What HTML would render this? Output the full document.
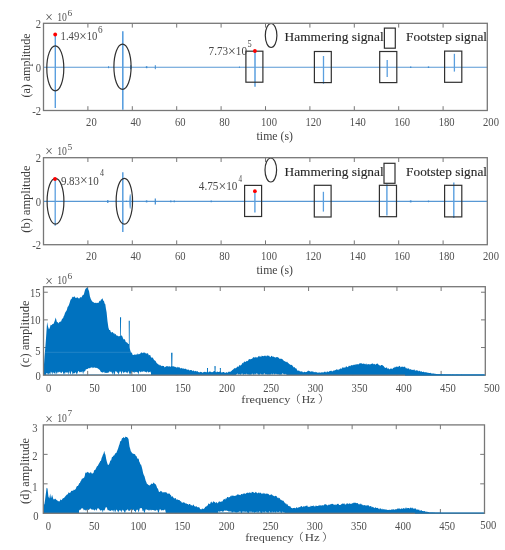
<!DOCTYPE html><html><head><meta charset="utf-8"><style>html,body{margin:0;padding:0;background:#fff;}svg{display:block;}text{font-family:'Liberation Serif', 'Noto Serif CJK SC', serif;paint-order:stroke;}</style></head><body>
<svg width="505" height="550" viewBox="0 0 505 550">
<rect width="505" height="550" fill="#fff"/>
<line x1="43.50" y1="67.20" x2="487.30" y2="67.20" stroke="#5898d4" stroke-width="1.1"/>
<line x1="55.30" y1="34.50" x2="55.30" y2="108.00" stroke="#5a9fdf" stroke-width="1.4"/>
<line x1="122.80" y1="31.20" x2="122.80" y2="109.80" stroke="#5a9fdf" stroke-width="1.6"/>
<line x1="255.00" y1="51.00" x2="255.00" y2="86.80" stroke="#5a9fdf" stroke-width="1.5"/>
<line x1="323.50" y1="56.00" x2="323.50" y2="83.80" stroke="#5a9fdf" stroke-width="1.3"/>
<line x1="387.20" y1="60.00" x2="387.20" y2="76.90" stroke="#5a9fdf" stroke-width="1.3"/>
<line x1="454.40" y1="53.80" x2="454.40" y2="71.60" stroke="#5a9fdf" stroke-width="1.3"/>
<line x1="239.50" y1="66.60" x2="239.50" y2="67.80" stroke="#3f8bd0" stroke-width="1.1"/>
<line x1="108.60" y1="66.20" x2="108.60" y2="68.20" stroke="#3f8bd0" stroke-width="1"/>
<line x1="130.70" y1="65.20" x2="130.70" y2="69.20" stroke="#3f8bd0" stroke-width="1.3"/>
<line x1="146.60" y1="66.20" x2="146.60" y2="68.20" stroke="#3f8bd0" stroke-width="1.5"/>
<line x1="155.30" y1="65.20" x2="155.30" y2="69.20" stroke="#3f8bd0" stroke-width="1"/>
<line x1="410.70" y1="66.40" x2="410.70" y2="68.00" stroke="#3f8bd0" stroke-width="1.3"/>
<line x1="428.50" y1="66.40" x2="428.50" y2="68.00" stroke="#3f8bd0" stroke-width="1.3"/>
<ellipse cx="55.3" cy="68.3" rx="8.5" ry="22.5" fill="none" stroke="#303030" stroke-width="1.2"/>
<ellipse cx="122.5" cy="66.8" rx="8.6" ry="22.6" fill="none" stroke="#303030" stroke-width="1.2"/>
<rect x="245.9" y="51.2" width="17.00" height="31.00" fill="none" stroke="#303030" stroke-width="1.2"/>
<rect x="314.4" y="51.5" width="16.90" height="31.10" fill="none" stroke="#303030" stroke-width="1.2"/>
<rect x="379.7" y="51.5" width="17.10" height="31.10" fill="none" stroke="#303030" stroke-width="1.2"/>
<rect x="444.6" y="51.1" width="17.20" height="31.20" fill="none" stroke="#303030" stroke-width="1.2"/>
<circle cx="55.2" cy="34.5" r="1.9" fill="#ff0000"/>
<circle cx="254.9" cy="51.0" r="1.9" fill="#ff0000"/>
<text x="60.60" y="40.30" font-size="11.8" textLength="36.8" lengthAdjust="spacingAndGlyphs" fill="#484848">1.49<tspan font-size="14.5" dy="0.6">×</tspan><tspan dy="-0.6">10</tspan></text>
<text x="98.10" y="32.80" font-size="9.8" textLength="4.6" lengthAdjust="spacingAndGlyphs" fill="#484848">6</text>
<text x="208.60" y="55.00" font-size="11.8" textLength="38.4" lengthAdjust="spacingAndGlyphs" fill="#484848">7.73<tspan font-size="14.5" dy="0.6">×</tspan><tspan dy="-0.6">10</tspan></text>
<text x="247.50" y="47.20" font-size="9.8" textLength="4.2" lengthAdjust="spacingAndGlyphs" fill="#484848">5</text>
<ellipse cx="271.1" cy="35.5" rx="5.8" ry="12" fill="none" stroke="#303030" stroke-width="1.2"/>
<text x="284.60" y="41.20" font-size="12.8" textLength="99.1" lengthAdjust="spacingAndGlyphs" fill="#262626" stroke="#262626" stroke-width="0.12">Hammering signal</text>
<rect x="384.4" y="28.1" width="10.90" height="20.10" fill="none" stroke="#303030" stroke-width="1.2"/>
<text x="406.10" y="41.00" font-size="12.8" textLength="80.9" lengthAdjust="spacingAndGlyphs" fill="#262626" stroke="#262626" stroke-width="0.12">Footstep signal</text>
<line x1="87.90" y1="110.50" x2="87.90" y2="106.20" stroke="#777777" stroke-width="1.0"/>
<line x1="87.90" y1="23.30" x2="87.90" y2="27.60" stroke="#777777" stroke-width="1.0"/>
<line x1="132.30" y1="110.50" x2="132.30" y2="106.20" stroke="#777777" stroke-width="1.0"/>
<line x1="132.30" y1="23.30" x2="132.30" y2="27.60" stroke="#777777" stroke-width="1.0"/>
<line x1="176.70" y1="110.50" x2="176.70" y2="106.20" stroke="#777777" stroke-width="1.0"/>
<line x1="176.70" y1="23.30" x2="176.70" y2="27.60" stroke="#777777" stroke-width="1.0"/>
<line x1="221.10" y1="110.50" x2="221.10" y2="106.20" stroke="#777777" stroke-width="1.0"/>
<line x1="221.10" y1="23.30" x2="221.10" y2="27.60" stroke="#777777" stroke-width="1.0"/>
<line x1="265.50" y1="110.50" x2="265.50" y2="106.20" stroke="#777777" stroke-width="1.0"/>
<line x1="265.50" y1="23.30" x2="265.50" y2="27.60" stroke="#777777" stroke-width="1.0"/>
<line x1="309.90" y1="110.50" x2="309.90" y2="106.20" stroke="#777777" stroke-width="1.0"/>
<line x1="309.90" y1="23.30" x2="309.90" y2="27.60" stroke="#777777" stroke-width="1.0"/>
<line x1="354.30" y1="110.50" x2="354.30" y2="106.20" stroke="#777777" stroke-width="1.0"/>
<line x1="354.30" y1="23.30" x2="354.30" y2="27.60" stroke="#777777" stroke-width="1.0"/>
<line x1="398.70" y1="110.50" x2="398.70" y2="106.20" stroke="#777777" stroke-width="1.0"/>
<line x1="398.70" y1="23.30" x2="398.70" y2="27.60" stroke="#777777" stroke-width="1.0"/>
<line x1="443.10" y1="110.50" x2="443.10" y2="106.20" stroke="#777777" stroke-width="1.0"/>
<line x1="443.10" y1="23.30" x2="443.10" y2="27.60" stroke="#777777" stroke-width="1.0"/>
<rect x="43.50" y="23.30" width="443.80" height="87.20" fill="none" stroke="#777777" stroke-width="1.3"/>
<text transform="translate(41.00 27.90) scale(0.87 1)" font-size="12.2" text-anchor="end" fill="#505050">2</text>
<text transform="translate(41.00 71.80) scale(0.87 1)" font-size="12.2" text-anchor="end" fill="#505050">0</text>
<text transform="translate(41.00 115.10) scale(0.87 1)" font-size="12.2" text-anchor="end" fill="#505050">-2</text>
<text x="45.20" y="22.10" font-size="15" textLength="7.6" lengthAdjust="spacingAndGlyphs" fill="#505050">×</text>
<text x="57.20" y="20.60" font-size="12.2" textLength="9.7" lengthAdjust="spacingAndGlyphs" fill="#505050">10</text>
<text x="67.60" y="15.60" font-size="9.0" textLength="4.7" lengthAdjust="spacingAndGlyphs" fill="#505050">6</text>
<text transform="translate(91.40 126.10) scale(0.87 1)" font-size="12.2" text-anchor="middle" fill="#505050">20</text>
<text transform="translate(135.80 126.10) scale(0.87 1)" font-size="12.2" text-anchor="middle" fill="#505050">40</text>
<text transform="translate(180.20 126.10) scale(0.87 1)" font-size="12.2" text-anchor="middle" fill="#505050">60</text>
<text transform="translate(224.60 126.10) scale(0.87 1)" font-size="12.2" text-anchor="middle" fill="#505050">80</text>
<text transform="translate(269.00 126.10) scale(0.87 1)" font-size="12.2" text-anchor="middle" fill="#505050">100</text>
<text transform="translate(313.40 126.10) scale(0.87 1)" font-size="12.2" text-anchor="middle" fill="#505050">120</text>
<text transform="translate(357.80 126.10) scale(0.87 1)" font-size="12.2" text-anchor="middle" fill="#505050">140</text>
<text transform="translate(402.20 126.10) scale(0.87 1)" font-size="12.2" text-anchor="middle" fill="#505050">160</text>
<text transform="translate(446.60 126.10) scale(0.87 1)" font-size="12.2" text-anchor="middle" fill="#505050">180</text>
<text transform="translate(491.00 126.10) scale(0.87 1)" font-size="12.2" text-anchor="middle" fill="#505050">200</text>
<text x="256.60" y="139.60" font-size="12.2" textLength="36.4" lengthAdjust="spacingAndGlyphs" fill="#424242">time (s)</text>
<text transform="translate(29.60 97.40) rotate(-90)" font-size="12.4" textLength="63.9" lengthAdjust="spacingAndGlyphs" fill="#3c3c3c">(a) amplitude</text>
<ellipse cx="130.2" cy="201.4" rx="1.0" ry="7.4" fill="#6aa7df"/>
<line x1="43.50" y1="201.40" x2="487.30" y2="201.40" stroke="#5898d4" stroke-width="1.1"/>
<line x1="55.20" y1="178.80" x2="55.20" y2="225.80" stroke="#5a9fdf" stroke-width="1.3"/>
<line x1="122.80" y1="172.30" x2="122.80" y2="231.90" stroke="#5a9fdf" stroke-width="1.5"/>
<line x1="254.90" y1="190.80" x2="254.90" y2="212.60" stroke="#5a9fdf" stroke-width="1.4"/>
<line x1="323.40" y1="191.80" x2="323.40" y2="211.60" stroke="#5a9fdf" stroke-width="1.3"/>
<line x1="386.90" y1="184.30" x2="386.90" y2="215.50" stroke="#5a9fdf" stroke-width="1.4"/>
<line x1="453.80" y1="182.50" x2="453.80" y2="218.10" stroke="#5a9fdf" stroke-width="1.4"/>
<line x1="126.40" y1="200.80" x2="126.40" y2="202.00" stroke="#3f8bd0" stroke-width="1.2"/>
<line x1="107.80" y1="199.90" x2="107.80" y2="202.90" stroke="#3f8bd0" stroke-width="1.2"/>
<line x1="146.60" y1="200.40" x2="146.60" y2="202.40" stroke="#3f8bd0" stroke-width="1.5"/>
<line x1="155.30" y1="198.40" x2="155.30" y2="204.40" stroke="#3f8bd0" stroke-width="1.2"/>
<line x1="170.80" y1="200.60" x2="170.80" y2="202.20" stroke="#3f8bd0" stroke-width="1.3"/>
<line x1="174.30" y1="200.60" x2="174.30" y2="202.20" stroke="#3f8bd0" stroke-width="1.3"/>
<line x1="211.30" y1="200.60" x2="211.30" y2="202.20" stroke="#3f8bd0" stroke-width="1.5"/>
<line x1="410.70" y1="200.40" x2="410.70" y2="202.40" stroke="#3f8bd0" stroke-width="1.6"/>
<line x1="428.50" y1="200.60" x2="428.50" y2="202.20" stroke="#3f8bd0" stroke-width="1.3"/>
<ellipse cx="55.5" cy="201.2" rx="8.4" ry="22.9" fill="none" stroke="#303030" stroke-width="1.2"/>
<ellipse cx="124.35" cy="201.2" rx="8.2" ry="22.9" fill="none" stroke="#303030" stroke-width="1.2"/>
<rect x="244.6" y="185.4" width="17.00" height="31.10" fill="none" stroke="#303030" stroke-width="1.2"/>
<rect x="314.3" y="185.3" width="16.80" height="31.70" fill="none" stroke="#303030" stroke-width="1.2"/>
<rect x="379.4" y="185.3" width="17.10" height="31.40" fill="none" stroke="#303030" stroke-width="1.2"/>
<rect x="444.6" y="185.3" width="17.20" height="31.60" fill="none" stroke="#303030" stroke-width="1.2"/>
<circle cx="55.0" cy="179.0" r="1.9" fill="#ff0000"/>
<circle cx="254.9" cy="191.2" r="1.9" fill="#ff0000"/>
<text x="60.90" y="184.70" font-size="11.8" textLength="37.8" lengthAdjust="spacingAndGlyphs" fill="#484848">9.83<tspan font-size="14.5" dy="0.6">×</tspan><tspan dy="-0.6">10</tspan></text>
<text x="99.90" y="176.40" font-size="9.8" textLength="4.0" lengthAdjust="spacingAndGlyphs" fill="#484848">4</text>
<text x="198.80" y="190.40" font-size="11.8" textLength="38.6" lengthAdjust="spacingAndGlyphs" fill="#484848">4.75<tspan font-size="14.5" dy="0.6">×</tspan><tspan dy="-0.6">10</tspan></text>
<text x="238.40" y="181.90" font-size="9.8" textLength="3.6" lengthAdjust="spacingAndGlyphs" fill="#484848">4</text>
<ellipse cx="270.8" cy="170" rx="5.8" ry="12" fill="none" stroke="#303030" stroke-width="1.2"/>
<text x="284.50" y="175.80" font-size="12.8" textLength="99.2" lengthAdjust="spacingAndGlyphs" fill="#262626" stroke="#262626" stroke-width="0.12">Hammering signal</text>
<rect x="384.0" y="163.3" width="11.00" height="20.00" fill="none" stroke="#303030" stroke-width="1.2"/>
<text x="406.10" y="175.60" font-size="12.8" textLength="80.9" lengthAdjust="spacingAndGlyphs" fill="#262626" stroke="#262626" stroke-width="0.12">Footstep signal</text>
<line x1="87.90" y1="244.70" x2="87.90" y2="240.40" stroke="#777777" stroke-width="1.0"/>
<line x1="87.90" y1="157.70" x2="87.90" y2="162.00" stroke="#777777" stroke-width="1.0"/>
<line x1="132.30" y1="244.70" x2="132.30" y2="240.40" stroke="#777777" stroke-width="1.0"/>
<line x1="132.30" y1="157.70" x2="132.30" y2="162.00" stroke="#777777" stroke-width="1.0"/>
<line x1="176.70" y1="244.70" x2="176.70" y2="240.40" stroke="#777777" stroke-width="1.0"/>
<line x1="176.70" y1="157.70" x2="176.70" y2="162.00" stroke="#777777" stroke-width="1.0"/>
<line x1="221.10" y1="244.70" x2="221.10" y2="240.40" stroke="#777777" stroke-width="1.0"/>
<line x1="221.10" y1="157.70" x2="221.10" y2="162.00" stroke="#777777" stroke-width="1.0"/>
<line x1="265.50" y1="244.70" x2="265.50" y2="240.40" stroke="#777777" stroke-width="1.0"/>
<line x1="265.50" y1="157.70" x2="265.50" y2="162.00" stroke="#777777" stroke-width="1.0"/>
<line x1="309.90" y1="244.70" x2="309.90" y2="240.40" stroke="#777777" stroke-width="1.0"/>
<line x1="309.90" y1="157.70" x2="309.90" y2="162.00" stroke="#777777" stroke-width="1.0"/>
<line x1="354.30" y1="244.70" x2="354.30" y2="240.40" stroke="#777777" stroke-width="1.0"/>
<line x1="354.30" y1="157.70" x2="354.30" y2="162.00" stroke="#777777" stroke-width="1.0"/>
<line x1="398.70" y1="244.70" x2="398.70" y2="240.40" stroke="#777777" stroke-width="1.0"/>
<line x1="398.70" y1="157.70" x2="398.70" y2="162.00" stroke="#777777" stroke-width="1.0"/>
<line x1="443.10" y1="244.70" x2="443.10" y2="240.40" stroke="#777777" stroke-width="1.0"/>
<line x1="443.10" y1="157.70" x2="443.10" y2="162.00" stroke="#777777" stroke-width="1.0"/>
<rect x="43.50" y="157.70" width="443.80" height="87.00" fill="none" stroke="#777777" stroke-width="1.3"/>
<text transform="translate(41.00 162.30) scale(0.87 1)" font-size="12.2" text-anchor="end" fill="#505050">2</text>
<text transform="translate(41.00 206.00) scale(0.87 1)" font-size="12.2" text-anchor="end" fill="#505050">0</text>
<text transform="translate(41.00 249.30) scale(0.87 1)" font-size="12.2" text-anchor="end" fill="#505050">-2</text>
<text x="45.20" y="156.30" font-size="15" textLength="7.6" lengthAdjust="spacingAndGlyphs" fill="#505050">×</text>
<text x="57.20" y="154.80" font-size="12.2" textLength="9.7" lengthAdjust="spacingAndGlyphs" fill="#505050">10</text>
<text x="67.60" y="149.50" font-size="9.0" textLength="4.7" lengthAdjust="spacingAndGlyphs" fill="#505050">5</text>
<text transform="translate(91.40 260.10) scale(0.87 1)" font-size="12.2" text-anchor="middle" fill="#505050">20</text>
<text transform="translate(135.80 260.10) scale(0.87 1)" font-size="12.2" text-anchor="middle" fill="#505050">40</text>
<text transform="translate(180.20 260.10) scale(0.87 1)" font-size="12.2" text-anchor="middle" fill="#505050">60</text>
<text transform="translate(224.60 260.10) scale(0.87 1)" font-size="12.2" text-anchor="middle" fill="#505050">80</text>
<text transform="translate(269.00 260.10) scale(0.87 1)" font-size="12.2" text-anchor="middle" fill="#505050">100</text>
<text transform="translate(313.40 260.10) scale(0.87 1)" font-size="12.2" text-anchor="middle" fill="#505050">120</text>
<text transform="translate(357.80 260.10) scale(0.87 1)" font-size="12.2" text-anchor="middle" fill="#505050">140</text>
<text transform="translate(402.20 260.10) scale(0.87 1)" font-size="12.2" text-anchor="middle" fill="#505050">160</text>
<text transform="translate(446.60 260.10) scale(0.87 1)" font-size="12.2" text-anchor="middle" fill="#505050">180</text>
<text transform="translate(491.00 260.10) scale(0.87 1)" font-size="12.2" text-anchor="middle" fill="#505050">200</text>
<text x="256.60" y="274.20" font-size="12.2" textLength="36.4" lengthAdjust="spacingAndGlyphs" fill="#424242">time (s)</text>
<text transform="translate(30.00 232.70) rotate(-90)" font-size="12.4" textLength="67.2" lengthAdjust="spacingAndGlyphs" fill="#3c3c3c">(b) amplitude</text>
<line x1="87.68" y1="375.20" x2="87.68" y2="370.90" stroke="#777777" stroke-width="1.0"/>
<line x1="87.68" y1="286.70" x2="87.68" y2="291.00" stroke="#777777" stroke-width="1.0"/>
<line x1="131.86" y1="375.20" x2="131.86" y2="370.90" stroke="#777777" stroke-width="1.0"/>
<line x1="131.86" y1="286.70" x2="131.86" y2="291.00" stroke="#777777" stroke-width="1.0"/>
<line x1="176.04" y1="375.20" x2="176.04" y2="370.90" stroke="#777777" stroke-width="1.0"/>
<line x1="176.04" y1="286.70" x2="176.04" y2="291.00" stroke="#777777" stroke-width="1.0"/>
<line x1="220.22" y1="375.20" x2="220.22" y2="370.90" stroke="#777777" stroke-width="1.0"/>
<line x1="220.22" y1="286.70" x2="220.22" y2="291.00" stroke="#777777" stroke-width="1.0"/>
<line x1="264.40" y1="375.20" x2="264.40" y2="370.90" stroke="#777777" stroke-width="1.0"/>
<line x1="264.40" y1="286.70" x2="264.40" y2="291.00" stroke="#777777" stroke-width="1.0"/>
<line x1="308.58" y1="375.20" x2="308.58" y2="370.90" stroke="#777777" stroke-width="1.0"/>
<line x1="308.58" y1="286.70" x2="308.58" y2="291.00" stroke="#777777" stroke-width="1.0"/>
<line x1="352.76" y1="375.20" x2="352.76" y2="370.90" stroke="#777777" stroke-width="1.0"/>
<line x1="352.76" y1="286.70" x2="352.76" y2="291.00" stroke="#777777" stroke-width="1.0"/>
<line x1="396.94" y1="375.20" x2="396.94" y2="370.90" stroke="#777777" stroke-width="1.0"/>
<line x1="396.94" y1="286.70" x2="396.94" y2="291.00" stroke="#777777" stroke-width="1.0"/>
<line x1="441.12" y1="375.20" x2="441.12" y2="370.90" stroke="#777777" stroke-width="1.0"/>
<line x1="441.12" y1="286.70" x2="441.12" y2="291.00" stroke="#777777" stroke-width="1.0"/>
<line x1="43.50" y1="347.54" x2="47.80" y2="347.54" stroke="#777777" stroke-width="1.0"/>
<line x1="485.30" y1="347.54" x2="481.00" y2="347.54" stroke="#777777" stroke-width="1.0"/>
<line x1="43.50" y1="319.89" x2="47.80" y2="319.89" stroke="#777777" stroke-width="1.0"/>
<line x1="485.30" y1="319.89" x2="481.00" y2="319.89" stroke="#777777" stroke-width="1.0"/>
<line x1="43.50" y1="292.23" x2="47.80" y2="292.23" stroke="#777777" stroke-width="1.0"/>
<line x1="485.30" y1="292.23" x2="481.00" y2="292.23" stroke="#777777" stroke-width="1.0"/>
<polygon points="43.6,375.2 43.9,366.0 44.5,356.8 45.4,346.5 46.2,335.4 47.1,322.1 48.0,326.5 48.9,329.2 49.5,328.5 50.1,326.8 50.7,324.8 51.6,325.3 52.5,323.9 53.4,323.9 54.3,322.1 55.0,319.9 55.7,317.6 56.9,322.1 57.6,322.1 58.2,323.4 58.9,322.5 59.6,322.1 60.3,321.6 61.0,321.8 61.6,320.1 62.3,318.5 63.0,318.4 63.6,316.5 64.3,315.3 65.0,313.0 65.7,311.7 66.3,311.0 66.9,309.8 67.6,307.0 68.3,306.2 68.9,304.9 69.6,303.1 70.3,300.5 70.9,299.3 71.6,299.0 72.2,296.5 72.8,297.4 73.5,297.0 74.1,296.6 74.7,296.6 75.4,298.0 76.1,297.5 76.7,297.9 77.4,296.9 78.1,298.3 78.8,298.2 79.4,298.6 80.1,297.3 80.8,297.3 81.4,297.4 82.1,296.2 82.8,295.0 83.5,294.9 84.1,293.4 84.8,290.7 85.4,289.1 86.3,288.3 87.2,287.0 88.1,289.3 89.0,290.9 89.9,296.3 90.8,298.9 91.5,300.3 92.1,301.4 92.8,301.7 93.4,302.0 94.1,302.9 94.8,302.8 95.6,302.8 96.3,303.3 97.0,302.5 97.6,302.9 98.2,303.0 98.9,302.2 99.5,300.7 100.3,301.2 101.2,298.9 101.8,299.7 102.5,298.0 103.2,300.8 103.9,300.7 104.6,303.5 105.3,304.3 105.9,308.5 106.6,312.3 107.5,321.2 108.4,327.4 109.2,330.0 110.1,330.1 110.8,332.0 111.4,332.4 112.1,332.3 112.8,331.9 113.5,333.4 114.2,333.1 114.8,334.5 115.5,333.7 116.4,335.4 117.3,335.4 118.2,336.3 119.1,336.3 120.2,336.0 120.0,317.3 121.1,317.3 120.9,335.6 121.7,335.4 122.4,336.4 123.1,338.5 123.7,339.6 124.4,339.0 125.1,340.0 125.8,342.0 126.4,342.3 127.1,342.6 127.7,343.3 128.3,344.0 128.9,344.0 128.7,320.8 129.8,320.8 129.6,346.0 129.7,347.9 130.3,350.6 130.9,352.2 131.5,352.4 132.1,353.3 132.7,355.1 133.3,355.0 134.2,354.7 135.1,354.2 135.8,355.1 136.4,354.2 137.1,354.8 137.8,353.3 138.5,354.6 139.2,353.7 139.9,354.3 140.6,353.0 141.3,352.4 142.0,352.5 142.7,353.3 143.5,352.4 144.2,352.7 144.9,352.4 145.6,353.2 146.2,353.8 146.9,353.3 147.6,353.3 148.2,353.8 148.9,355.5 149.5,355.0 150.2,355.0 150.9,357.1 151.6,357.7 152.2,357.6 152.9,357.7 153.6,359.3 154.3,360.3 155.0,360.4 155.9,361.6 156.6,363.1 157.2,363.5 157.9,363.9 158.6,364.5 159.2,365.5 159.9,364.6 160.6,365.6 161.2,365.7 161.9,366.3 162.6,365.8 163.2,366.1 163.9,365.9 164.6,367.4 165.2,366.7 165.9,366.7 166.5,365.9 167.2,366.5 167.8,365.9 168.5,366.8 169.2,365.9 169.9,366.8 170.6,366.8 171.3,365.9 171.1,352.7 171.8,352.8 172.5,352.7 172.3,365.9 173.1,366.8 173.8,365.9 174.5,366.7 175.1,367.2 175.8,366.8 176.4,367.5 177.1,367.7 177.7,366.7 178.4,366.9 179.0,368.0 179.7,367.1 180.4,368.7 181.0,367.8 181.7,368.3 182.3,368.6 183.0,368.4 183.6,368.6 184.3,368.7 184.9,368.9 185.6,368.5 186.2,369.5 186.8,369.2 187.4,369.5 188.0,370.2 188.6,369.2 189.2,370.2 189.8,370.6 190.4,370.1 191.0,370.1 191.6,369.9 192.3,371.2 192.9,370.5 193.6,370.6 194.2,371.1 194.9,371.5 195.5,370.8 196.2,371.3 196.8,371.4 197.5,371.1 198.2,372.2 198.8,371.9 199.5,372.4 200.2,371.8 200.8,372.1 201.5,371.9 202.1,372.5 202.7,372.7 203.3,372.2 203.9,372.0 204.6,371.8 205.2,372.2 205.8,371.8 206.4,372.4 207.0,371.5 207.0,368.1 208.0,368.1 207.9,371.5 208.7,372.4 209.4,371.5 210.1,371.6 210.7,371.7 211.3,372.3 212.0,372.0 212.7,372.2 213.3,371.5 213.9,371.2 214.6,371.0 214.4,365.9 215.1,366.3 215.7,365.9 215.5,371.5 216.1,372.4 216.7,371.8 217.3,371.5 218.0,371.9 218.7,372.0 219.3,372.0 220.0,371.5 219.8,368.1 220.9,368.1 220.7,371.9 221.3,372.3 222.0,372.8 222.7,372.1 223.3,371.9 224.0,371.9 224.6,372.8 225.3,372.7 225.9,372.8 226.6,372.1 227.2,372.7 227.9,372.6 228.5,371.8 229.2,371.5 229.8,372.0 230.4,371.8 231.1,371.3 231.7,370.7 232.3,370.0 232.9,369.7 233.6,369.1 234.2,368.5 234.8,368.0 235.5,368.4 236.1,367.5 236.8,367.8 237.5,366.2 238.2,367.1 238.8,366.3 239.5,364.8 240.1,365.8 240.7,365.3 241.3,364.9 241.9,364.1 242.5,362.8 243.1,363.5 243.7,362.3 244.3,361.6 245.0,361.7 245.6,361.9 246.3,361.3 247.0,360.7 247.7,361.2 248.3,360.3 249.0,359.0 249.6,359.2 250.2,358.9 250.8,359.5 251.4,358.7 252.0,358.9 252.6,358.0 253.2,357.5 253.8,356.9 254.5,357.5 255.1,357.8 255.8,356.7 256.5,357.5 257.2,357.5 257.8,357.2 258.5,355.8 259.1,357.0 259.8,355.7 260.4,356.6 261.1,356.9 261.8,355.6 262.4,355.9 263.1,355.9 263.7,356.2 264.4,356.0 265.0,355.3 265.6,356.1 266.2,356.6 266.9,355.5 267.5,355.6 268.1,355.7 268.7,355.8 269.3,355.8 270.0,357.2 270.6,357.0 271.2,355.8 271.8,356.0 272.5,356.8 273.1,356.6 273.7,356.7 274.4,356.9 275.0,357.4 275.6,357.4 276.2,357.2 276.9,357.1 277.5,356.9 278.1,357.7 278.7,357.6 279.3,358.5 279.9,359.0 280.5,358.8 281.1,358.6 281.7,359.0 282.3,359.0 283.0,359.9 283.6,360.6 284.3,361.3 285.0,361.1 285.7,362.1 286.3,362.2 287.0,361.6 287.6,362.6 288.2,363.0 288.8,363.5 289.4,364.3 290.0,364.2 290.6,365.0 291.2,365.1 291.8,364.8 292.5,365.7 293.1,366.6 293.8,367.4 294.5,367.0 295.2,368.0 295.8,368.5 296.5,368.4 297.1,370.2 297.8,370.7 298.4,370.3 299.1,371.5 299.7,370.6 300.3,371.8 300.9,371.2 301.5,371.6 302.1,371.3 302.7,372.2 303.3,372.1 303.9,372.5 304.5,371.6 305.1,372.3 305.8,372.1 306.4,372.0 307.0,371.7 307.7,370.9 308.3,370.6 308.9,371.5 309.6,370.9 310.2,371.2 310.8,372.1 311.4,371.3 312.1,371.5 312.7,371.6 313.3,371.6 314.0,372.6 314.6,371.9 315.3,371.8 315.9,372.6 316.6,371.9 317.2,372.7 317.9,372.6 318.5,372.8 319.2,372.0 319.9,372.9 320.5,372.5 321.2,372.7 321.8,371.9 322.5,372.6 323.1,372.3 323.8,372.4 324.4,371.8 325.1,371.6 325.7,372.3 326.3,372.5 326.9,371.4 327.5,371.6 328.1,371.8 328.7,372.0 329.3,371.2 329.9,371.0 330.5,371.0 331.1,370.6 331.8,371.3 332.4,371.4 333.1,370.7 333.7,370.5 334.4,370.4 335.0,370.2 335.7,370.1 336.3,369.5 337.0,369.2 337.6,369.7 338.3,370.2 338.9,369.1 339.5,369.4 340.2,368.3 340.8,368.8 341.4,368.7 342.1,368.3 342.7,367.1 343.3,367.7 344.0,367.5 344.6,367.6 345.2,367.8 345.9,366.5 346.5,366.3 347.1,367.1 347.7,367.2 348.4,366.4 349.0,365.5 349.6,366.0 350.3,366.3 350.9,365.3 351.5,365.3 352.1,365.0 352.8,365.4 353.4,364.9 354.0,364.6 354.7,365.1 355.3,363.9 355.9,365.2 356.5,364.1 357.1,364.6 357.7,364.1 358.3,364.6 358.9,364.1 359.5,363.5 360.1,363.0 360.7,363.4 361.4,363.1 362.0,363.9 362.6,363.8 363.2,363.5 363.9,363.8 364.5,363.8 365.1,364.6 365.8,363.7 366.4,363.5 367.0,364.9 367.7,364.1 368.3,364.2 369.0,364.0 369.6,364.5 370.2,364.4 370.9,364.0 371.5,363.8 372.2,364.1 372.8,363.0 373.5,364.4 374.1,363.7 374.8,364.3 375.5,364.7 376.2,364.1 376.8,363.8 377.5,363.5 378.1,364.0 378.7,365.0 379.3,365.1 379.9,365.7 380.5,365.7 381.1,365.0 381.7,365.1 382.3,365.0 383.0,365.7 383.6,366.0 384.3,367.1 385.0,367.7 385.7,368.1 386.3,367.4 387.0,367.4 387.7,368.9 388.3,368.3 389.0,368.7 389.7,369.4 390.3,368.6 391.0,368.7 391.7,368.5 392.3,369.3 393.0,368.1 393.7,367.8 394.3,367.8 395.0,366.6 395.7,367.5 396.3,366.4 397.0,366.8 397.7,366.8 398.4,366.8 399.0,366.2 399.7,365.8 400.3,366.8 400.9,367.4 401.5,366.6 402.1,366.9 402.7,366.4 403.3,366.7 403.9,367.3 404.5,366.4 405.1,366.8 405.8,368.2 406.4,368.5 407.0,367.6 407.6,369.1 408.3,368.5 408.9,368.2 409.5,369.5 410.1,369.6 410.7,369.0 411.3,369.7 411.9,369.7 412.5,370.1 413.1,369.4 413.7,370.2 414.3,369.2 415.0,370.8 415.6,370.5 416.3,370.5 417.0,370.0 417.6,370.8 418.3,370.7 418.9,371.4 419.6,370.5 420.3,371.6 421.0,371.5 421.6,371.2 422.3,371.9 423.0,372.0 423.6,371.6 424.3,372.5 425.0,371.7 425.7,372.5 426.3,372.1 427.0,373.0 427.6,372.4 428.3,372.7 429.0,373.1 429.6,373.1 430.3,372.8 431.0,373.3 431.6,373.4 432.3,373.4 433.0,373.4 433.6,373.5 434.3,373.5 434.9,373.9 435.6,373.7 436.3,374.1 437.0,374.1 437.6,374.2 438.3,374.2 439.0,374.2 439.6,374.3 440.3,374.5 441.0,374.4 441.6,374.4 442.2,374.6 442.8,374.5 443.4,374.7 444.0,374.6 444.6,374.6 445.2,374.7 445.8,374.7 446.4,374.8 447.0,374.7 447.6,374.8 448.2,374.7 448.8,374.8 449.4,374.8 450.0,374.8 450.6,374.8 451.2,374.9 451.8,374.9 452.4,374.8 453.0,374.8 453.7,374.9 454.3,374.9 454.9,374.9 455.5,374.9 456.1,374.9 456.7,374.8 457.3,374.9 457.9,374.8 458.5,374.9 459.1,374.9 459.7,374.9 460.3,374.9 461.0,374.9 461.6,374.8 462.2,374.9 462.8,374.9 463.4,374.9 464.0,374.9 464.6,374.9 465.2,374.9 465.8,374.9 466.4,375.0 467.0,374.9 467.6,374.9 468.3,374.9 468.9,374.9 469.5,374.9 470.1,374.9 470.7,374.9 471.3,374.9 471.9,374.9 472.5,374.9 473.1,374.9 473.7,374.9 474.3,374.9 475.0,374.9 475.6,374.9 476.2,374.9 476.8,374.9 477.4,374.9 478.0,374.9 478.6,375.0 479.2,375.0 479.8,374.9 480.4,375.0 481.0,374.9 481.6,374.9 482.3,374.9 482.9,374.9 483.5,374.9 484.1,374.9 484.7,375.0 485.3,374.9 485.3,375.2" fill="#0072BF"/>
<line x1="44.5" y1="352.3" x2="131" y2="352.3" stroke="#ffffff" stroke-opacity="0.13" stroke-width="1"/>
<polygon points="46.0,374.6 46.0,372.9 46.7,373.4 47.4,373.3 48.1,374.4 48.8,373.4 49.5,373.3 50.2,374.4 50.9,371.6 51.6,372.4 52.3,374.4 53.0,371.7 53.7,372.9 54.4,373.0 55.1,374.4 55.8,371.3 56.5,374.4 57.2,371.5 57.9,373.5 58.6,371.7 59.3,372.3 60.0,371.5 60.7,372.7 61.4,373.2 62.1,371.9 62.8,371.4 63.5,374.4 64.2,372.5 64.9,374.4 65.6,371.8 66.3,373.0 67.0,371.8 67.7,372.8 68.4,374.4 69.1,371.1 69.8,373.1 70.5,374.4 71.2,371.9 71.9,371.0 72.6,374.4 73.3,373.4 74.0,372.9 74.7,373.4 75.4,371.9 76.1,372.9 76.8,374.4 77.5,373.0 78.2,371.1 78.9,371.2 79.6,372.5 80.3,371.8 81.0,372.4 81.7,371.8 82.4,371.2 83.1,374.2 83.8,371.4 84.5,371.4 85.2,371.0 85.9,369.3 86.6,369.2 87.3,369.0 88.0,368.7 88.7,368.0 89.4,368.3 90.1,368.3 90.8,367.6 91.5,367.6 92.2,367.2 92.9,368.2 93.6,367.4 94.3,367.4 95.0,367.5 95.7,368.0 96.4,367.8 97.1,368.2 97.8,368.3 98.5,369.0 99.2,369.6 99.9,370.1 100.6,371.4 101.3,372.3 102.0,371.9 102.7,372.7 103.4,372.3 104.1,371.4 104.8,373.3 105.5,372.7 106.2,372.8 106.9,373.0 107.6,372.7 108.3,372.6 109.0,372.6 109.7,371.1 110.4,372.1 111.1,371.5 111.8,372.6 112.5,374.4 113.2,371.6 113.9,374.4 114.6,374.4 115.3,371.5 116.0,371.1 116.7,372.0 117.4,372.5 118.1,373.3 118.8,374.4 119.5,371.7 120.2,371.3 120.9,371.9 121.6,374.4 122.3,371.2 123.0,371.8 123.7,373.4 124.4,372.0 125.1,372.6 125.8,371.4 126.5,372.4 127.2,373.4 127.9,371.9 128.6,371.0 129.3,374.4 130.0,372.5 130.7,374.4 131.4,373.2 132.1,372.1 132.8,371.7 133.5,371.9 134.2,373.3 134.9,371.6 135.6,372.2 136.3,371.8 137.0,372.2 137.7,372.2 138.4,374.4 139.1,371.7 139.8,371.0 140.5,372.5 141.2,371.4 141.9,371.7 142.6,371.7 143.3,371.3 144.0,371.4 144.7,371.6 145.4,371.9 146.1,371.7 146.8,372.8 147.5,371.0 148.2,372.4 148.9,372.2 149.6,372.0 150.3,371.5 151.0,373.1 151.0,374.6" fill="#fff"/>
<line x1="87.68" y1="375.20" x2="87.68" y2="370.90" stroke="#777777" stroke-width="1.0"/>
<line x1="131.86" y1="375.20" x2="131.86" y2="370.90" stroke="#777777" stroke-width="1.0"/>
<polygon points="236.0,374.7 236.0,373.7 236.7,374.5 237.4,373.4 238.1,374.1 238.8,374.5 239.5,373.9 240.2,374.5 240.9,374.5 241.6,373.8 242.3,373.5 243.0,374.5 243.7,374.5 244.4,374.1 245.1,374.0 245.8,374.5 246.5,373.5 247.2,374.5 247.9,374.0 248.6,374.5 249.3,374.5 250.0,374.5 250.7,374.5 251.4,374.5 252.1,373.6 252.8,374.1 253.5,374.5 254.2,374.5 254.9,373.4 255.6,374.5 256.3,373.5 257.0,373.5 257.7,374.1 258.4,374.5 259.1,374.5 259.8,374.5 260.5,373.4 261.2,374.5 261.9,374.1 262.6,374.5 263.3,374.5 264.0,373.5 264.7,373.5 265.4,374.2 266.1,374.5 266.8,373.9 267.5,374.5 268.2,374.5 268.9,374.2 269.6,374.5 270.3,374.2 271.0,374.5 271.7,373.4 272.4,374.5 273.1,373.9 273.8,373.5 274.5,374.5 275.2,373.9 275.9,373.7 276.6,373.9 277.3,374.5 278.0,373.7 278.7,374.5 279.4,374.5 280.1,374.5 280.8,374.5 281.5,374.5 282.2,373.5 282.9,373.4 283.6,374.0 284.3,374.0 285.0,374.5 285.7,373.7 286.4,374.5 287.0,374.7" fill="#fff"/>
<rect x="43.50" y="286.70" width="441.80" height="88.50" fill="none" stroke="#777777" stroke-width="1.3"/>
<line x1="405" y1="374.90" x2="484.70" y2="374.90" stroke="#0072BF" stroke-width="1.1"/>
<text transform="translate(40.80 380.20) scale(0.87 1)" font-size="12.2" text-anchor="end" fill="#505050">0</text>
<text transform="translate(40.50 355.00) scale(0.87 1)" font-size="12.2" text-anchor="end" fill="#505050">5</text>
<text transform="translate(40.50 323.90) scale(0.87 1)" font-size="12.2" text-anchor="end" fill="#505050">10</text>
<text transform="translate(40.50 297.10) scale(0.87 1)" font-size="12.2" text-anchor="end" fill="#505050">15</text>
<text x="45.20" y="285.90" font-size="15" textLength="7.6" lengthAdjust="spacingAndGlyphs" fill="#505050">×</text>
<text x="57.20" y="284.40" font-size="12.2" textLength="9.7" lengthAdjust="spacingAndGlyphs" fill="#505050">10</text>
<text x="67.60" y="278.50" font-size="9.0" textLength="4.7" lengthAdjust="spacingAndGlyphs" fill="#505050">6</text>
<text transform="translate(48.60 391.70) scale(0.87 1)" font-size="12.2" text-anchor="middle" fill="#505050">0</text>
<text transform="translate(94.48 391.70) scale(0.87 1)" font-size="12.2" text-anchor="middle" fill="#505050">50</text>
<text transform="translate(138.66 391.70) scale(0.87 1)" font-size="12.2" text-anchor="middle" fill="#505050">100</text>
<text transform="translate(182.84 391.70) scale(0.87 1)" font-size="12.2" text-anchor="middle" fill="#505050">150</text>
<text transform="translate(227.02 391.70) scale(0.87 1)" font-size="12.2" text-anchor="middle" fill="#505050">200</text>
<text transform="translate(271.20 391.70) scale(0.87 1)" font-size="12.2" text-anchor="middle" fill="#505050">250</text>
<text transform="translate(315.38 391.70) scale(0.87 1)" font-size="12.2" text-anchor="middle" fill="#505050">300</text>
<text transform="translate(359.56 391.70) scale(0.87 1)" font-size="12.2" text-anchor="middle" fill="#505050">350</text>
<text transform="translate(403.74 391.70) scale(0.87 1)" font-size="12.2" text-anchor="middle" fill="#505050">400</text>
<text transform="translate(447.92 391.70) scale(0.87 1)" font-size="12.2" text-anchor="middle" fill="#505050">450</text>
<text transform="translate(491.90 391.70) scale(0.87 1)" font-size="12.2" text-anchor="middle" fill="#505050">500</text>
<text x="241.30" y="402.90" font-size="11.2" textLength="49.0" lengthAdjust="spacingAndGlyphs" fill="#424242">frequency</text>
<text x="289.80" y="402.90" font-size="11" fill="#424242">（</text>
<text x="301.70" y="402.90" font-size="11.2" textLength="13.6" lengthAdjust="spacingAndGlyphs" fill="#424242">Hz</text>
<text x="318.00" y="402.90" font-size="11" fill="#424242">）</text>
<text transform="translate(28.80 367.30) rotate(-90)" font-size="12.4" textLength="66.8" lengthAdjust="spacingAndGlyphs" fill="#3c3c3c">(c) amplitude</text>
<line x1="87.42" y1="513.30" x2="87.42" y2="509.00" stroke="#777777" stroke-width="1.0"/>
<line x1="87.42" y1="424.90" x2="87.42" y2="429.20" stroke="#777777" stroke-width="1.0"/>
<line x1="131.54" y1="513.30" x2="131.54" y2="509.00" stroke="#777777" stroke-width="1.0"/>
<line x1="131.54" y1="424.90" x2="131.54" y2="429.20" stroke="#777777" stroke-width="1.0"/>
<line x1="175.66" y1="513.30" x2="175.66" y2="509.00" stroke="#777777" stroke-width="1.0"/>
<line x1="175.66" y1="424.90" x2="175.66" y2="429.20" stroke="#777777" stroke-width="1.0"/>
<line x1="219.78" y1="513.30" x2="219.78" y2="509.00" stroke="#777777" stroke-width="1.0"/>
<line x1="219.78" y1="424.90" x2="219.78" y2="429.20" stroke="#777777" stroke-width="1.0"/>
<line x1="263.90" y1="513.30" x2="263.90" y2="509.00" stroke="#777777" stroke-width="1.0"/>
<line x1="263.90" y1="424.90" x2="263.90" y2="429.20" stroke="#777777" stroke-width="1.0"/>
<line x1="308.02" y1="513.30" x2="308.02" y2="509.00" stroke="#777777" stroke-width="1.0"/>
<line x1="308.02" y1="424.90" x2="308.02" y2="429.20" stroke="#777777" stroke-width="1.0"/>
<line x1="352.14" y1="513.30" x2="352.14" y2="509.00" stroke="#777777" stroke-width="1.0"/>
<line x1="352.14" y1="424.90" x2="352.14" y2="429.20" stroke="#777777" stroke-width="1.0"/>
<line x1="396.26" y1="513.30" x2="396.26" y2="509.00" stroke="#777777" stroke-width="1.0"/>
<line x1="396.26" y1="424.90" x2="396.26" y2="429.20" stroke="#777777" stroke-width="1.0"/>
<line x1="440.38" y1="513.30" x2="440.38" y2="509.00" stroke="#777777" stroke-width="1.0"/>
<line x1="440.38" y1="424.90" x2="440.38" y2="429.20" stroke="#777777" stroke-width="1.0"/>
<line x1="43.30" y1="483.83" x2="47.60" y2="483.83" stroke="#777777" stroke-width="1.0"/>
<line x1="484.50" y1="483.83" x2="480.20" y2="483.83" stroke="#777777" stroke-width="1.0"/>
<line x1="43.30" y1="454.37" x2="47.60" y2="454.37" stroke="#777777" stroke-width="1.0"/>
<line x1="484.50" y1="454.37" x2="480.20" y2="454.37" stroke="#777777" stroke-width="1.0"/>
<polygon points="43.3,513.3 43.9,505.0 44.5,503.7 45.1,499.6 45.7,494.8 46.6,487.7 47.5,488.6 48.4,496.6 49.3,498.4 50.2,493.4 51.0,498.4 52.1,494.8 52.8,497.2 53.4,499.3 54.2,499.4 55.1,498.4 56.0,499.5 56.9,500.2 57.5,500.6 58.1,501.4 58.7,501.1 59.6,501.6 60.5,499.3 61.2,500.2 61.9,499.8 62.5,498.7 63.2,498.0 63.9,498.2 64.5,497.3 65.2,496.5 65.8,495.7 66.5,495.0 67.2,494.3 67.8,494.5 68.5,492.2 69.2,493.1 69.8,492.8 70.5,492.4 71.2,490.9 71.9,490.8 72.6,490.7 73.2,490.8 73.9,489.5 74.6,489.9 75.2,489.4 75.8,488.8 76.5,486.8 77.2,486.0 77.8,485.9 78.5,485.1 79.2,483.2 79.9,482.9 80.6,481.3 81.2,480.6 81.9,478.8 82.8,478.5 83.6,477.9 84.2,477.5 84.8,475.7 85.4,472.6 86.3,473.0 87.2,471.7 88.1,472.6 89.0,472.6 89.9,473.5 90.8,471.7 91.7,473.4 92.6,473.4 93.4,473.0 94.3,469.9 95.0,470.3 95.7,468.9 96.3,467.8 97.0,466.3 97.7,466.1 98.3,464.8 99.0,463.4 99.6,462.5 100.3,461.0 101.0,460.7 101.6,458.1 102.3,456.5 102.9,454.7 103.6,453.6 104.2,450.8 104.8,453.3 105.5,455.0 106.2,459.1 106.8,461.5 107.7,464.4 108.3,465.1 108.9,464.4 109.6,463.0 110.3,460.5 111.1,460.4 111.9,457.3 112.8,456.7 113.6,455.5 114.2,455.4 114.8,454.3 115.4,453.2 116.3,452.9 117.2,450.8 118.1,448.5 119.0,445.4 119.6,443.9 120.2,441.3 121.1,440.9 122.0,438.3 122.8,438.1 123.5,437.0 124.2,437.7 124.8,438.0 125.5,436.5 126.2,436.9 127.0,437.0 127.8,438.0 128.5,438.9 129.5,446.6 130.2,448.7 130.8,451.3 131.5,452.0 132.2,453.4 132.9,453.3 133.6,453.9 134.3,454.1 135.0,454.3 135.7,455.8 136.4,456.0 137.2,457.9 137.9,459.0 138.6,458.5 139.2,461.4 139.8,462.6 140.4,464.4 141.0,464.4 141.7,466.8 142.4,469.6 143.1,473.0 143.8,475.1 144.5,476.3 145.1,478.5 145.7,480.8 146.3,481.9 146.9,483.7 147.5,484.0 148.1,484.7 148.7,484.9 149.3,485.6 149.9,485.2 150.7,484.6 151.5,483.5 152.1,483.7 152.8,484.1 153.4,482.3 154.0,483.3 154.6,483.4 155.2,484.0 155.8,484.5 156.5,486.1 157.2,488.3 157.9,488.5 158.9,491.7 159.6,491.9 160.2,491.5 160.9,490.7 161.6,491.2 162.2,492.8 162.9,491.7 163.6,492.5 164.4,492.3 165.1,492.2 165.8,492.3 166.5,492.6 167.1,493.0 167.8,494.0 168.5,493.5 169.1,493.5 169.8,493.7 170.4,495.0 171.0,495.2 171.6,496.9 172.2,496.2 172.8,496.6 173.5,497.7 174.2,498.5 175.0,498.3 175.7,498.0 176.4,499.8 177.0,499.4 177.7,499.5 178.4,500.1 179.0,499.9 179.7,500.2 180.4,501.2 181.0,501.2 181.7,502.5 182.4,502.8 183.0,502.6 183.7,502.2 184.4,502.6 185.1,503.3 185.9,503.6 186.6,503.6 187.2,504.0 187.8,504.1 188.4,505.1 189.0,504.1 189.6,504.0 190.3,504.2 190.9,505.6 191.6,505.1 192.3,505.9 192.9,505.1 193.6,504.6 194.3,506.3 195.1,506.2 195.8,506.8 196.5,505.9 197.1,507.3 197.7,507.3 198.3,507.0 198.9,507.5 199.5,507.5 200.1,509.0 200.7,509.2 201.3,509.5 201.9,508.8 202.5,508.5 203.2,509.0 203.9,508.7 204.7,508.0 205.4,506.5 206.0,507.1 206.6,506.1 207.2,505.7 207.8,505.2 208.4,503.6 209.0,503.6 209.6,504.2 210.2,503.8 210.8,502.1 211.4,501.6 212.1,502.9 212.7,502.6 213.4,501.0 214.1,502.3 214.9,501.7 215.6,503.2 216.3,502.2 216.9,502.3 217.5,503.4 218.1,502.8 218.7,501.8 219.3,501.6 220.0,501.5 220.6,501.9 221.3,501.5 222.0,501.4 222.6,501.3 223.3,499.6 224.0,499.5 224.6,498.7 225.2,499.7 225.9,497.9 226.5,498.7 227.2,497.0 227.9,496.9 228.5,497.6 229.2,497.3 229.9,497.1 230.5,496.3 231.2,495.2 231.9,496.4 232.5,495.3 233.2,496.0 233.8,495.4 234.5,496.1 235.1,495.9 235.8,495.4 236.4,495.4 237.1,494.5 237.7,494.4 238.3,494.3 238.9,495.0 239.5,494.8 240.1,495.2 240.7,494.7 241.3,493.9 241.9,494.1 242.5,494.6 243.1,493.3 243.7,493.9 244.3,493.0 244.9,494.1 245.5,494.0 246.1,492.7 246.7,493.3 247.3,492.9 247.9,492.2 248.6,493.3 249.2,492.5 249.9,492.4 250.6,492.7 251.2,493.3 251.9,491.8 252.6,491.9 253.2,492.0 253.9,492.7 254.5,493.1 255.2,492.6 255.8,491.8 256.5,492.6 257.1,493.3 257.8,493.3 258.5,492.3 259.1,493.6 259.8,492.4 260.5,492.8 261.1,493.0 261.8,493.9 262.5,493.3 263.1,493.9 263.8,492.8 264.4,493.2 265.1,494.3 265.8,493.4 266.4,493.4 267.1,494.0 267.7,493.4 268.4,494.1 269.0,494.5 269.7,495.3 270.4,495.1 271.0,494.2 271.7,494.4 272.4,495.1 273.0,495.7 273.6,495.8 274.3,496.3 275.0,496.2 275.6,495.7 276.3,496.1 276.9,496.7 277.6,498.0 278.3,497.6 278.9,498.5 279.6,497.7 280.3,499.7 280.9,499.6 281.6,500.2 282.3,500.6 282.9,500.7 283.6,500.7 284.2,502.6 284.9,502.5 285.6,503.8 286.2,503.4 286.9,504.8 287.5,504.1 288.1,505.8 288.7,506.0 289.3,506.3 289.9,506.3 290.5,506.6 291.1,508.0 291.7,507.7 292.3,508.4 292.9,507.9 293.5,508.0 294.2,507.9 294.9,507.8 295.7,508.6 296.4,507.2 297.0,507.3 297.6,508.3 298.3,507.3 298.9,507.5 299.5,507.0 300.1,507.2 300.8,506.3 301.4,506.0 302.1,506.6 302.7,507.3 303.4,506.1 304.0,506.8 304.7,506.3 305.3,506.2 306.0,505.7 306.6,505.7 307.3,505.6 307.9,507.0 308.5,506.8 309.1,506.7 309.7,506.7 310.3,506.8 310.9,505.6 311.5,506.2 312.1,506.0 312.7,506.1 313.3,505.2 314.0,506.6 314.6,506.2 315.3,506.5 315.9,505.2 316.6,505.9 317.2,505.9 317.9,505.9 318.5,505.7 319.2,504.7 319.9,505.9 320.5,505.0 321.2,505.9 321.8,505.0 322.5,505.3 323.1,505.6 323.8,505.3 324.4,504.6 325.1,504.1 325.7,504.4 326.3,504.5 326.9,504.9 327.5,505.4 328.1,505.2 328.7,504.5 329.3,504.4 329.9,505.0 330.5,504.2 331.1,503.7 331.7,504.3 332.3,503.7 332.9,504.0 333.5,504.6 334.1,504.8 334.7,504.7 335.3,504.3 335.9,505.2 336.5,504.7 337.1,503.8 337.8,504.0 338.4,503.8 339.1,505.1 339.7,505.1 340.4,505.0 341.0,504.4 341.7,504.0 342.3,503.6 343.0,503.8 343.6,503.7 344.3,503.3 344.9,504.6 345.6,504.5 346.2,504.3 346.8,503.3 347.5,503.4 348.1,503.4 348.7,504.3 349.4,503.1 350.0,503.9 350.6,503.7 351.3,503.5 351.9,504.0 352.5,502.9 353.2,503.2 353.8,502.4 354.4,502.7 355.1,502.7 355.7,502.7 356.4,503.2 357.0,503.0 357.7,503.0 358.3,504.5 359.0,503.5 359.6,504.5 360.3,504.3 360.9,503.3 361.5,504.6 362.2,504.6 362.8,505.2 363.5,505.2 364.1,505.2 364.8,505.1 365.4,505.4 366.1,505.6 366.7,505.5 367.4,505.6 368.0,505.0 368.7,505.4 369.3,506.6 370.0,506.3 370.6,505.9 371.3,506.2 371.9,507.5 372.6,506.7 373.2,507.1 373.9,507.7 374.5,508.2 375.2,507.1 375.8,507.7 376.5,507.9 377.1,508.1 377.8,507.7 378.4,509.1 379.1,507.9 379.7,509.4 380.4,508.3 381.0,508.5 381.7,509.6 382.3,508.5 382.9,509.7 383.6,508.9 384.2,509.4 384.8,509.3 385.5,509.7 386.1,509.0 386.7,509.9 387.4,510.1 388.0,509.8 388.6,510.1 389.3,510.1 389.9,509.4 390.5,510.0 391.2,510.1 391.8,509.0 392.4,509.7 393.1,509.0 393.7,509.6 394.4,509.9 395.0,509.0 395.7,509.4 396.3,509.7 397.0,509.2 397.6,508.3 398.3,509.1 398.9,508.1 399.5,508.4 400.2,509.2 400.8,508.8 401.5,508.2 402.1,509.0 402.8,508.5 403.4,508.0 404.1,508.6 404.7,508.6 405.4,508.5 406.0,507.1 406.6,508.4 407.2,508.1 407.8,508.2 408.4,508.1 409.0,508.0 409.6,508.7 410.2,507.8 410.8,507.4 411.4,508.4 412.0,507.3 412.7,508.2 413.3,508.5 414.0,508.8 414.6,508.4 415.3,508.5 415.9,508.5 416.6,509.7 417.2,510.0 417.9,509.0 418.5,510.0 419.1,509.5 419.7,510.7 420.3,510.6 420.9,510.5 421.5,510.1 422.1,511.1 422.7,511.0 423.3,511.2 423.9,510.9 424.6,511.1 425.2,511.7 425.9,511.4 426.6,511.8 427.3,511.8 427.9,512.1 428.6,512.1 429.2,512.5 429.8,512.4 430.4,512.5 431.0,512.4 431.6,512.5 432.2,512.6 432.8,512.5 433.4,512.6 434.0,512.8 434.6,512.6 435.2,512.8 435.8,512.8 436.4,512.7 437.1,512.8 437.7,512.8 438.3,512.8 438.9,512.8 439.5,512.8 440.1,512.8 440.8,512.9 441.4,513.0 442.0,512.9 442.6,513.0 443.2,512.9 443.8,513.0 444.5,513.0 445.1,513.0 445.7,513.0 446.3,513.0 446.9,513.0 447.5,513.0 448.2,513.1 448.8,513.1 449.4,513.1 450.0,513.1 450.6,513.1 451.2,513.1 451.8,513.1 452.4,513.2 453.0,513.1 453.6,513.1 454.2,513.1 454.8,513.1 455.4,513.1 456.1,513.1 456.7,513.1 457.3,513.1 457.9,513.1 458.5,513.1 459.1,513.1 459.7,513.1 460.3,513.1 460.9,513.1 461.5,513.1 462.1,513.1 462.7,513.1 463.3,513.1 463.9,513.1 464.5,513.1 465.1,513.1 465.7,513.1 466.3,513.1 466.9,513.1 467.6,513.1 468.2,513.1 468.8,513.1 469.4,513.1 470.0,513.0 470.6,513.1 471.2,513.1 471.8,513.1 472.4,513.1 473.0,513.1 473.6,513.1 474.2,513.0 474.8,513.0 475.4,513.1 476.0,513.1 476.6,513.1 477.2,513.1 477.8,513.0 478.4,513.1 479.1,513.1 479.7,513.1 480.3,513.1 480.9,513.0 481.5,513.0 482.1,513.0 482.7,513.0 483.3,513.1 483.9,513.1 484.5,513.0 484.5,513.3" fill="#0072BF"/>
<polygon points="79.0,512.7 79.0,510.7 79.7,509.8 80.4,510.1 81.1,508.5 81.8,508.5 82.5,508.3 83.2,508.8 83.9,510.5 84.6,509.5 85.3,510.7 86.0,509.6 86.7,510.4 87.4,510.9 88.1,509.7 88.8,509.9 89.5,509.2 90.2,508.3 90.9,508.9 91.6,509.5 92.3,509.6 93.0,509.7 93.7,509.6 94.4,510.8 95.1,509.4 95.8,509.4 96.5,510.8 97.2,509.1 97.9,508.1 98.6,508.5 99.3,509.3 100.0,510.1 100.7,510.7 101.4,510.2 102.1,510.1 102.8,512.5 103.5,509.8 104.2,510.7 104.9,509.4 105.6,507.4 106.3,507.1 107.0,508.0 107.7,510.2 108.4,510.0 109.1,510.7 109.8,510.5 110.5,510.9 111.2,510.4 111.9,510.0 112.6,510.7 113.3,509.9 114.0,512.5 114.7,509.5 115.4,512.5 116.1,509.6 116.8,510.0 117.5,510.8 118.2,512.5 118.9,510.9 119.6,510.1 120.3,510.7 121.0,510.2 121.7,512.5 122.4,509.6 123.1,510.4 123.8,510.4 124.5,512.5 125.2,512.5 125.9,510.1 126.6,510.4 127.3,509.6 128.0,509.5 128.7,510.9 129.4,510.8 130.1,510.5 130.8,509.6 131.5,510.9 132.2,510.6 132.9,509.8 133.6,509.5 134.3,511.0 135.0,510.9 135.7,512.5 136.4,509.8 137.1,510.1 137.8,509.5 138.5,512.5 139.2,510.4 139.9,508.2 140.6,508.2 141.3,507.9 142.0,508.6 142.7,511.2 143.4,510.2 144.1,512.5 144.8,512.5 145.5,509.4 146.2,509.6 146.9,509.6 147.6,510.0 148.3,509.8 149.0,510.9 149.7,509.7 150.4,509.8 151.1,510.7 151.8,509.7 152.5,510.0 153.2,510.0 153.9,510.3 154.6,510.5 155.3,510.7 156.0,510.5 156.7,509.7 157.4,510.0 158.1,512.5 158.8,512.5 159.5,509.6 160.2,509.6 160.9,509.5 161.6,510.7 162.3,510.3 163.0,509.9 163.7,510.6 164.4,509.7 165.1,509.6 165.8,512.5 166.0,512.7" fill="#fff"/>
<line x1="87.42" y1="513.30" x2="87.42" y2="509.00" stroke="#777777" stroke-width="1.0"/>
<line x1="131.54" y1="513.30" x2="131.54" y2="509.00" stroke="#777777" stroke-width="1.0"/>
<polygon points="218.0,512.6 218.0,511.5 218.7,511.5 219.4,511.7 220.1,511.4 220.8,511.3 221.5,511.0 222.2,511.7 222.9,511.6 223.6,511.4 224.3,510.5 225.0,510.5 225.7,510.7 226.4,510.4 227.1,510.8 227.8,510.9 228.5,511.4 229.2,511.4 229.9,511.4 230.6,511.5 231.3,511.5 232.0,512.4 232.7,511.9 233.4,511.7 234.1,511.9 234.8,511.8 235.5,512.2 236.2,511.9 236.9,512.4 237.6,511.9 238.3,512.1 239.0,511.7 239.7,511.4 240.4,511.5 241.1,512.4 241.8,512.4 242.5,511.5 243.2,511.7 243.9,511.5 244.6,511.8 245.3,512.1 246.0,511.6 246.7,511.7 247.4,512.2 248.1,512.4 248.8,512.4 249.5,511.6 250.2,511.9 250.9,511.4 251.6,511.7 252.3,512.2 253.0,511.8 253.7,511.9 254.4,512.4 255.1,512.0 255.8,512.0 256.5,511.7 257.2,512.4 257.9,511.4 258.6,512.4 259.3,511.5 260.0,511.4 260.7,512.4 261.4,512.4 262.1,512.4 262.8,511.4 263.5,511.9 264.2,512.4 264.9,511.7 265.6,511.5 266.3,512.2 267.0,511.8 267.7,512.4 268.4,512.4 269.1,511.6 269.8,511.5 270.5,512.4 271.2,511.8 271.9,512.4 272.6,511.4 273.3,512.2 274.0,512.0 274.7,511.7 275.4,512.4 276.1,511.8 276.8,511.7 277.5,512.0 278.2,512.1 278.9,512.1 279.6,511.6 280.3,511.7 281.0,512.4 281.7,512.4 282.4,511.6 283.1,512.2 283.8,512.1 284.5,512.2 285.0,512.6" fill="#fff"/>
<rect x="43.30" y="424.90" width="441.20" height="88.40" fill="none" stroke="#777777" stroke-width="1.3"/>
<line x1="415" y1="513.00" x2="483.90" y2="513.00" stroke="#0072BF" stroke-width="1.1"/>
<text transform="translate(38.60 520.40) scale(0.87 1)" font-size="12.2" text-anchor="end" fill="#505050">0</text>
<text transform="translate(37.60 490.60) scale(0.87 1)" font-size="12.2" text-anchor="end" fill="#505050">1</text>
<text transform="translate(37.60 460.30) scale(0.87 1)" font-size="12.2" text-anchor="end" fill="#505050">2</text>
<text transform="translate(37.50 432.20) scale(0.87 1)" font-size="12.2" text-anchor="end" fill="#505050">3</text>
<text x="45.20" y="423.90" font-size="15" textLength="7.6" lengthAdjust="spacingAndGlyphs" fill="#505050">×</text>
<text x="57.20" y="422.40" font-size="12.2" textLength="9.7" lengthAdjust="spacingAndGlyphs" fill="#505050">10</text>
<text x="67.60" y="416.40" font-size="9.0" textLength="4.7" lengthAdjust="spacingAndGlyphs" fill="#505050">7</text>
<text transform="translate(48.40 529.70) scale(0.87 1)" font-size="12.2" text-anchor="middle" fill="#505050">0</text>
<text transform="translate(94.22 529.70) scale(0.87 1)" font-size="12.2" text-anchor="middle" fill="#505050">50</text>
<text transform="translate(138.34 529.70) scale(0.87 1)" font-size="12.2" text-anchor="middle" fill="#505050">100</text>
<text transform="translate(182.46 529.70) scale(0.87 1)" font-size="12.2" text-anchor="middle" fill="#505050">150</text>
<text transform="translate(226.58 529.70) scale(0.87 1)" font-size="12.2" text-anchor="middle" fill="#505050">200</text>
<text transform="translate(270.70 529.70) scale(0.87 1)" font-size="12.2" text-anchor="middle" fill="#505050">250</text>
<text transform="translate(314.82 529.70) scale(0.87 1)" font-size="12.2" text-anchor="middle" fill="#505050">300</text>
<text transform="translate(358.94 529.70) scale(0.87 1)" font-size="12.2" text-anchor="middle" fill="#505050">350</text>
<text transform="translate(403.06 529.70) scale(0.87 1)" font-size="12.2" text-anchor="middle" fill="#505050">400</text>
<text transform="translate(447.18 529.70) scale(0.87 1)" font-size="12.2" text-anchor="middle" fill="#505050">450</text>
<text transform="translate(488.30 528.90) scale(0.87 1)" font-size="12.2" text-anchor="middle" fill="#505050">500</text>
<text x="245.30" y="540.70" font-size="11.2" textLength="48.3" lengthAdjust="spacingAndGlyphs" fill="#424242">frequency</text>
<text x="292.80" y="540.70" font-size="11" fill="#424242">（</text>
<text x="304.70" y="540.70" font-size="11.2" textLength="14.9" lengthAdjust="spacingAndGlyphs" fill="#424242">Hz</text>
<text x="322.00" y="540.70" font-size="11" fill="#424242">）</text>
<text transform="translate(29.40 503.90) rotate(-90)" font-size="12.4" textLength="65.9" lengthAdjust="spacingAndGlyphs" fill="#3c3c3c">(d) amplitude</text>
</svg></body></html>
